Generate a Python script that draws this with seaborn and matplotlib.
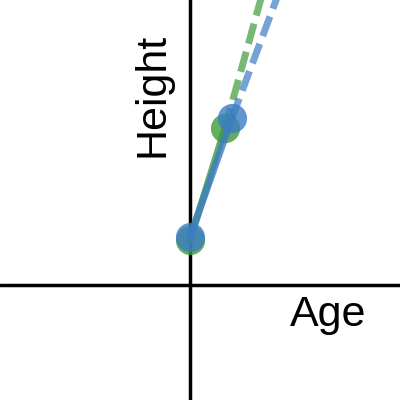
import numpy as np
import pandas as pd
import matplotlib
matplotlib.use('Agg')
import matplotlib.pyplot as plt
import seaborn as sns

sns.set_style("white")
plt.rcParams['font.family'] = ['Liberation Sans', 'DejaVu Sans']

# measured points (age, height) and dashed extension end
green_age = [0.0, 0.35]
green_height = [0.45, 1.57]
green_ext = [0.35, 0.72]
green_ext_h = [1.57, 2.9]

blue_age = [0.0, 0.42]
blue_height = [0.48, 1.67]
blue_ext = [0.42, 0.88]
blue_ext_h = [1.67, 2.9]

green = '#3f9a3a'
blue = '#3b7cc4'

fig = plt.figure(figsize=(4, 4), dpi=100)
ax = fig.add_axes([0, 0, 1, 1])
ax.set_xlim(-1.9, 2.1)
ax.set_ylim(-1.15, 2.85)
ax.axhline(0, color='black', lw=2.5, zorder=1)
ax.axvline(0, color='black', lw=2.5, zorder=1)

sns.lineplot(x=green_ext, y=green_ext_h, ax=ax, color=green, lw=5, alpha=0.7,
             linestyle=(0, (3, 1.2)))
sns.lineplot(x=blue_ext, y=blue_ext_h, ax=ax, color=blue, lw=5, alpha=0.7,
             linestyle=(0, (3, 1.2)))
sns.lineplot(x=green_age, y=green_height, ax=ax, color=green, lw=5, alpha=0.8,
             marker='o', markersize=21, markeredgewidth=0)
sns.lineplot(x=blue_age, y=blue_height, ax=ax, color=blue, lw=5, alpha=0.8,
             marker='o', markersize=21, markeredgewidth=0)

ax.text(-0.37, 1.9, 'Height', rotation=90, fontsize=31, color='black',
        ha='center', va='center')
ax.text(1.38, -0.3, 'Age', fontsize=31, color='black', ha='center', va='center')

ax.set_xticks([])
ax.set_yticks([])
for s in ax.spines.values():
    s.set_visible(False)

fig.savefig('out.png', dpi=100)
